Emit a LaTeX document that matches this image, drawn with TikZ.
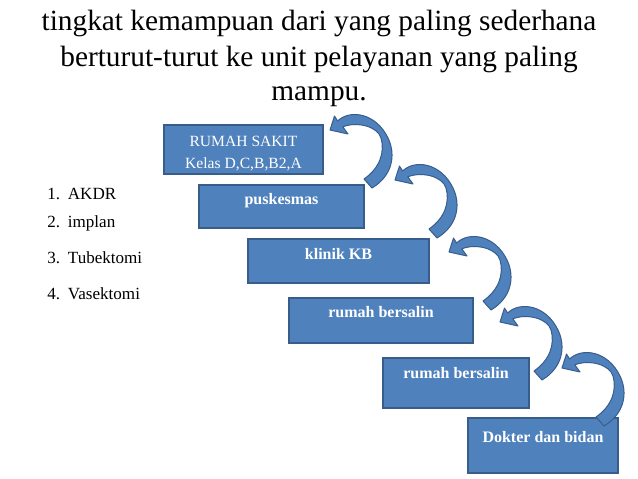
\documentclass[tikz,border=0pt]{standalone}
\usepackage{fontspec}
\setmainfont{Liberation Serif}
\usetikzlibrary{fit}
\definecolor{boxfill}{HTML}{4F81BD}
\definecolor{boxline}{HTML}{385D8A}
\tikzset{
  x=0.75pt, y=-0.75pt,
  stepbox/.style={draw=boxline, fill=boxfill, line width=0.9pt, inner sep=0pt},
  boxtext/.style={text=white, font=\bfseries\fontsize{12}{14}\selectfont, anchor=base, inner sep=0pt},
  rstext/.style={text=white, font=\fontsize{11.7}{14}\selectfont, anchor=base, inner sep=0pt},
  titletext/.style={font=\fontsize{22}{26}\selectfont, anchor=base, inner sep=0pt},
  listtext/.style={font=\fontsize{12.8}{15}\selectfont, anchor=base west, inner sep=0pt},
  curvarrow/.pic={
    \filldraw[fill=boxfill, draw=boxline, line width=0.75pt, line join=round]
      (0,0) -- (4.5,-14) -- (7.6,-9)
      .. controls (20,-21) and (46,-17) .. (58,8)
      .. controls (66.4,25.5) and (62,46) .. (42,58)
      -- (34,49)
      .. controls (50,38) and (55,22) .. (51,8)
      .. controls (48,-3) and (28,-9) .. (12.8,-3.2)
      -- (18,4) -- cycle;
  }
}
\begin{document}
\begin{tikzpicture}
\useasboundingbox[fill=white] (0,0) rectangle (638,478);
% title
\node[titletext] (t1) at (319,31) {tingkat kemampuan dari yang paling sederhana};
\node[titletext] (t2) at (319,66) {berturut-turut ke unit pelayanan yang paling};
\node[titletext] (t3) at (319,100) {mampu.};
% list
\node[listtext] (l1) at (47,199) {\makebox[15.5pt][l]{1.}AKDR};
\node[listtext] (l2) at (47,227) {\makebox[15.5pt][l]{2.}implan};
\node[listtext] (l3) at (47,263) {\makebox[15.5pt][l]{3.}Tubektomi};
\node[listtext] (l4) at (47,299) {\makebox[15.5pt][l]{4.}Vasektomi};
% boxes
\node[stepbox, fit={(164,125) (323,174)}] (rs) {};
\node[stepbox, fit={(199,185) (364,228)}] (pk) {};
\node[stepbox, fit={(248,239) (429,283)}] (kb) {};
\node[stepbox, fit={(289,298) (473,343)}] (rb1) {};
\node[stepbox, fit={(383,358) (529,408)}] (rb2) {};
\node[stepbox, fit={(468,418) (618,473)}] (db) {};
% box texts
\node[rstext] (rst1) at (rs.north |- 0,146.5) {RUMAH SAKIT};
\node[rstext] (rst2) at (rs.north |- 0,168) {Kelas D,C,B,B2,A};
\node[boxtext] (pkt) at (pk.north |- 0,204) {puskesmas};
\node[boxtext] (kbt) at (kb.north |- 0,259) {klinik KB};
\node[boxtext] (rb1t) at (rb1.north |- 0,317) {rumah bersalin};
\node[boxtext] (rb2t) at (rb2.north |- 0,378) {rumah bersalin};
\node[boxtext] (dbt) at (db.north |- 0,442) {Dokter dan bidan};
% curved arrows
\pic (a1) at (330,130) {curvarrow};
\pic (a2) at (395,180) {curvarrow};
\pic (a3) at (449,252) {curvarrow};
\pic (a4) at (500,322) {curvarrow};
\pic (a5) at (562,368) {curvarrow};
\end{tikzpicture}
\end{document}
